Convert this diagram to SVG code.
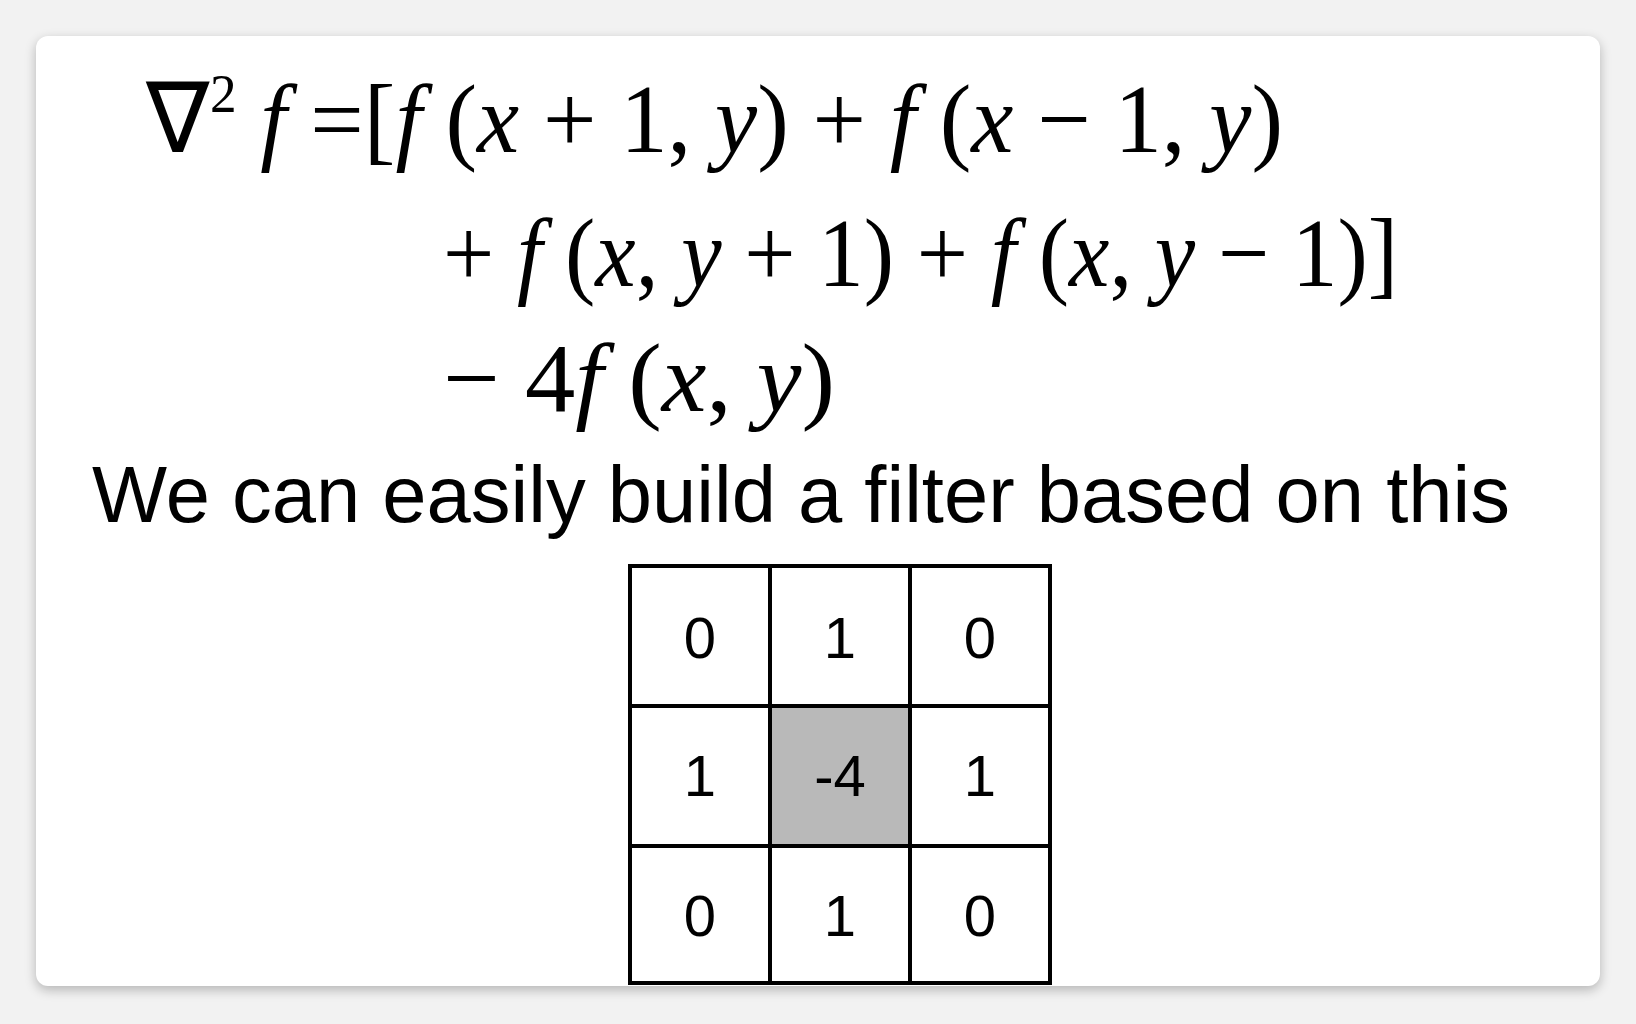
<svg xmlns="http://www.w3.org/2000/svg" width="1636" height="1024" viewBox="0 0 1636 1024">
<style>
.eq{font-family:"Liberation Serif",serif;font-size:98px;fill:#000}
.i{font-style:italic}
.cap{font-family:"Liberation Sans",sans-serif;font-size:80px;fill:#000}
.num{font-family:"Liberation Sans",sans-serif;font-size:58px;fill:#000;text-anchor:middle}
.cell{fill:#fff;stroke:#000;stroke-width:4}
</style>
<defs><filter id="sh" x="-5%" y="-5%" width="110%" height="110%"><feGaussianBlur stdDeviation="6"/></filter></defs>
<rect width="1636" height="1024" fill="#f2f2f2"/>
<rect x="36" y="40" width="1564" height="950" rx="12" fill="#000" opacity="0.25" filter="url(#sh)"/>
<rect x="36" y="36" width="1564" height="950" rx="12" fill="#fff"/>
<g id="equation">
<text class="eq" x="146" y="152" textLength="1137" lengthAdjust="spacingAndGlyphs">∇<tspan font-size="55" dy="-40">2</tspan><tspan class="i" dy="40"> f</tspan> =[<tspan class="i">f</tspan> (<tspan class="i">x</tspan> + 1, <tspan class="i">y</tspan>) + <tspan class="i">f</tspan> (<tspan class="i">x</tspan> − 1, <tspan class="i">y</tspan>)</text>
<text class="eq" x="443" y="286" textLength="955" lengthAdjust="spacingAndGlyphs">+ <tspan class="i">f</tspan> (<tspan class="i">x</tspan>, <tspan class="i">y</tspan> + 1) + <tspan class="i">f</tspan> (<tspan class="i">x</tspan>, <tspan class="i">y</tspan> − 1)]</text>
<text class="eq" x="443" y="411" textLength="392" lengthAdjust="spacingAndGlyphs">− 4<tspan class="i">f</tspan> (<tspan class="i">x</tspan>, <tspan class="i">y</tspan>)</text>
</g>
<g id="caption"><text class="cap" x="92" y="522" textLength="1418" lengthAdjust="spacingAndGlyphs">We can easily build a filter based on this</text></g>
<g id="grid">
<rect class="cell" x="630" y="566" width="140" height="140"/>
<rect class="cell" x="770" y="566" width="140" height="140"/>
<rect class="cell" x="910" y="566" width="140" height="140"/>
<rect class="cell" x="630" y="706" width="140" height="140"/>
<rect class="cell" x="770" y="706" width="140" height="140" style="fill:#b9b9b9"/>
<rect class="cell" x="910" y="706" width="140" height="140"/>
<rect class="cell" x="630" y="846" width="140" height="137"/>
<rect class="cell" x="770" y="846" width="140" height="137"/>
<rect class="cell" x="910" y="846" width="140" height="137"/>
<text class="num" x="700" y="658">0</text><text class="num" x="840" y="658">1</text><text class="num" x="980" y="658">0</text>
<text class="num" x="700" y="796">1</text><text class="num" x="840" y="796">-4</text><text class="num" x="980" y="796">1</text>
<text class="num" x="700" y="936">0</text><text class="num" x="840" y="936">1</text><text class="num" x="980" y="936">0</text>
</g>
</svg>
